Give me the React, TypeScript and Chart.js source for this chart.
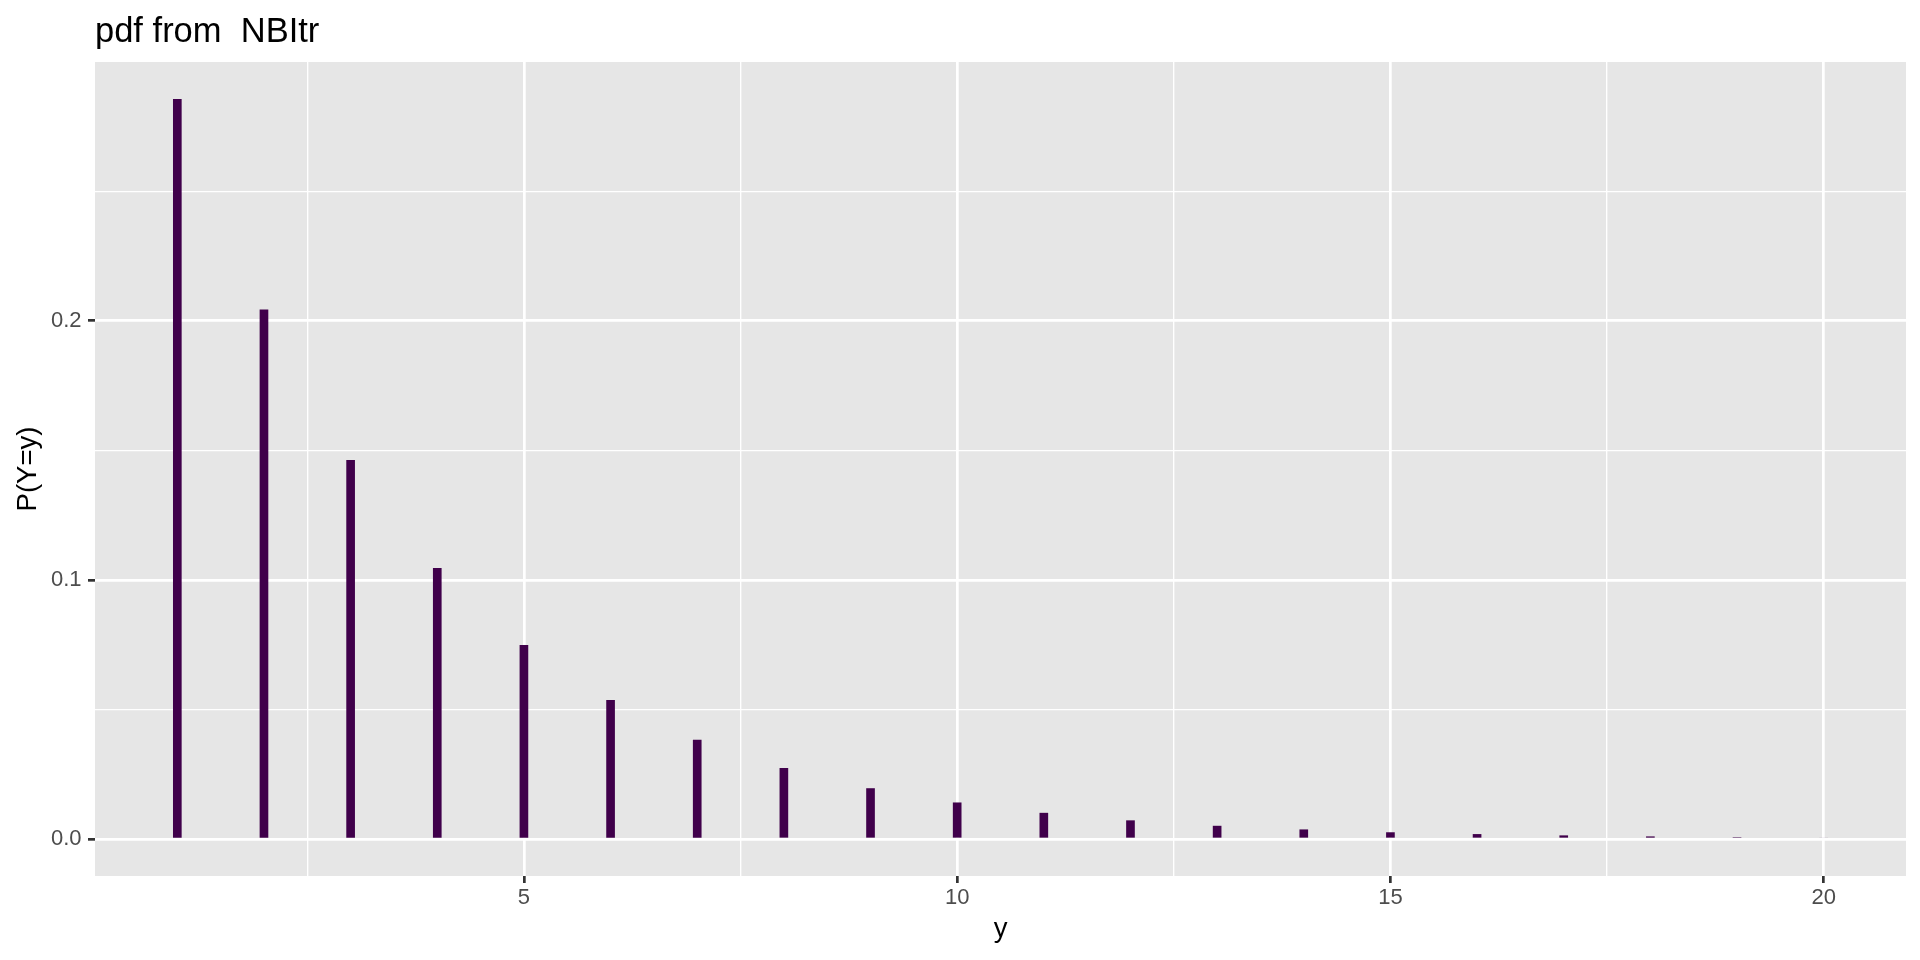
import React, { useEffect, useRef } from "react";
import { Chart, registerables } from "chart.js";

Chart.register(...registerables);

// y = 1..20 and P(Y=y)
const yValues = [1, 2, 3, 4, 5, 6, 7, 8, 9, 10, 11, 12, 13, 14, 15, 16, 17, 18, 19, 20];
const probs = [
  0.2856, 0.2044, 0.1463, 0.1046, 0.0749, 0.0536, 0.0383, 0.0274, 0.0196, 0.0141,
  0.0101, 0.0072, 0.0051, 0.0037, 0.0026, 0.0019, 0.0014, 0.001, 0.0007, 0.0005,
];

const xMajorTicks = [5, 10, 15, 20];
const xMinorTicks = [2.5, 7.5, 12.5, 17.5];
const yMajorTicks = [0, 0.1, 0.2];
const yMinorTicks = [0.05, 0.15, 0.25];

const FONT = "'Liberation Sans', Arial, Helvetica, sans-serif";

// grey panel behind the plot, like ggplot's theme_grey
const panelBackground = {
  id: "panelBackground",
  beforeDraw(chart: Chart) {
    const { ctx, chartArea } = chart;
    ctx.save();
    ctx.fillStyle = "#E6E6E6";
    ctx.fillRect(chartArea.left, chartArea.top, chartArea.width, chartArea.height);
    ctx.restore();
  },
};

const isMajor = (list: number[], v: number) => list.some((t) => Math.abs(t - v) < 1e-9);

const App: React.FC = () => {
  const canvasRef = useRef<HTMLCanvasElement>(null);

  useEffect(() => {
    document.body.style.margin = "0";
    if (!canvasRef.current) return;

    const xMin = Math.min(...yValues);
    const xMax = Math.max(...yValues);
    const xPad = (xMax - xMin) * 0.05;
    const pMax = Math.max(...probs);
    const yPad = pMax * 0.05;

    const chart = new Chart(canvasRef.current, {
      type: "bar",
      data: {
        datasets: [
          {
            data: yValues.map((y, i) => ({ x: y, y: probs[i] })),
            backgroundColor: "#40004B",
            borderWidth: 0,
            barPercentage: 0.1,
            categoryPercentage: 1,
          },
        ],
      },
      plugins: [panelBackground],
      options: {
        responsive: false,
        animation: false,
        devicePixelRatio: 1,
        layout: { padding: { top: 0, right: 14, bottom: 0, left: 0 } },
        plugins: {
          legend: { display: false },
          tooltip: { enabled: false },
          title: {
            display: true,
            text: "pdf from  NBItr",
            align: "start",
            fullSize: false,
            color: "#000000",
            font: { family: FONT, size: 34.5, weight: "normal", lineHeight: 1.2 },
            padding: { top: 12, bottom: 8.6 },
          },
        },
        scales: {
          x: {
            type: "linear",
            offset: false,
            min: xMin - xPad,
            max: xMax + xPad,
            afterBuildTicks: (axis: any) => {
              axis.ticks = [...xMinorTicks, ...xMajorTicks]
                .sort((a, b) => a - b)
                .map((v) => ({ value: v }));
            },
            afterFit: (axis: any) => {
              axis.height = 84;
            },
            ticks: {
              autoSkip: false,
              maxRotation: 0,
              padding: 2,
              color: "#4D4D4D",
              font: { family: FONT, size: 22 },
              callback: (v: any) => (isMajor(xMajorTicks, Number(v)) ? String(v) : ""),
            },
            grid: {
              offset: false,
              drawTicks: true,
              tickLength: 7,
              color: "#FFFFFF",
              lineWidth: (c: any) => (isMajor(xMajorTicks, c.tick?.value) ? 2.7 : 1.35),
              tickColor: (c: any) =>
                isMajor(xMajorTicks, c.tick?.value) ? "#333333" : "rgba(0,0,0,0)",
              tickWidth: 2.7,
            },
            border: { display: false },
            title: {
              display: true,
              text: "y",
              color: "#000000",
              font: { family: FONT, size: 27.5, lineHeight: 1.2 },
              padding: { top: 0, bottom: 14.5 },
            },
          },
          y: {
            type: "linear",
            min: -yPad,
            max: pMax + yPad,
            afterBuildTicks: (axis: any) => {
              axis.ticks = [...yMajorTicks, ...yMinorTicks]
                .sort((a, b) => a - b)
                .map((v) => ({ value: v }));
            },
            afterFit: (axis: any) => {
              axis.width = 95;
            },
            ticks: {
              autoSkip: false,
              padding: 6.5,
              color: "#4D4D4D",
              font: { family: FONT, size: 22 },
              callback: (v: any) =>
                isMajor(yMajorTicks, Number(v)) ? Number(v).toFixed(1) : "",
            },
            grid: {
              drawTicks: true,
              tickLength: 7,
              color: "#FFFFFF",
              lineWidth: (c: any) => (isMajor(yMajorTicks, c.tick?.value) ? 2.7 : 1.35),
              tickColor: (c: any) =>
                isMajor(yMajorTicks, c.tick?.value) ? "#333333" : "rgba(0,0,0,0)",
              tickWidth: 2.7,
            },
            border: { display: false },
            title: {
              display: true,
              text: "P(Y=y)",
              color: "#000000",
              font: { family: FONT, size: 27.5, lineHeight: 1.2 },
              padding: { top: 11.5, bottom: 0 },
            },
          },
        },
      },
    });

    return () => {
      chart.destroy();
    };
  }, []);

  return (
    <div style={{ width: 1920, height: 960, background: "#FFFFFF" }}>
      <canvas ref={canvasRef} width={1920} height={960} style={{ display: "block" }} />
    </div>
  );
};

export default App;
